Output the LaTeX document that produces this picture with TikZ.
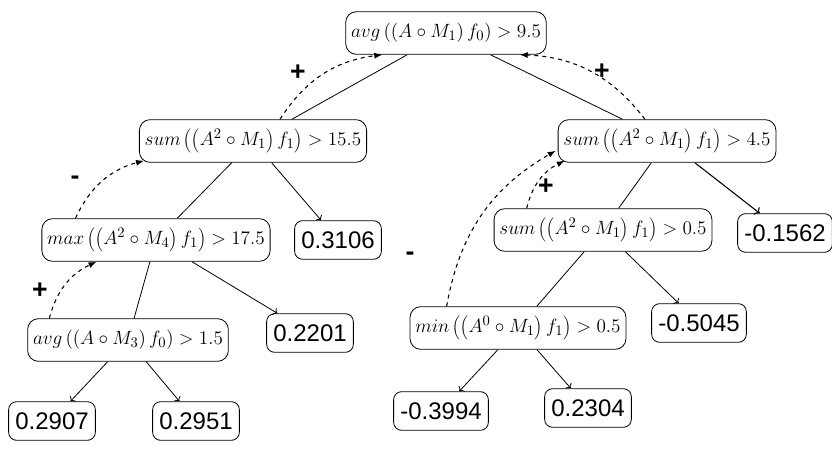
\documentclass[tikz,border=0pt]{standalone}
\usepackage{fontspec}
\newfontfamily\leaffont{Liberation Sans}
\usetikzlibrary{arrows.meta, calc}

\begin{document}
\begin{tikzpicture}[x=0.75pt, y=-0.75pt, semithick,
    split/.style={draw, rounded corners=8pt, inner xsep=4pt, minimum height=32pt, font=\fontsize{15}{18}\selectfont},
    leaf/.style={draw, rounded corners=6pt, minimum height=29pt, inner xsep=5pt, font=\leaffont\fontsize{18}{20}\selectfont},
    sign/.style={font=\leaffont\bfseries\fontsize{20}{22}\selectfont},
    back/.style={-{Latex[length=6pt]}, dashed, thick}]
        \useasboundingbox (0,0) rectangle (832,453);
        % split nodes
        \node [split] (r) at (446,33) {$avg\left(\left(A\circ M_1\right)f_0\right)>9.5$};
        \node [split] (l1) at (253,141) {$sum\left(\left(A^2\circ M_1\right)f_1\right)>15.5$};
        \node [split] (r1) at (667,141) {$sum\left(\left(A^2\circ M_1\right)f_1\right)>4.5$};
        \node [split] (l2) at (156,240) {$max\left(\left(A^2\circ M_4\right)f_1\right)>17.5$};
        \node [split] (r2) at (603,230) {$sum\left(\left(A^2\circ M_1\right)f_1\right)>0.5$};
        \node [split] (l3) at (128,340) {$avg\left(\left(A\circ M_3\right)f_0\right)>1.5$};
        \node [split] (r3) at (518,328) {$min\left(\left(A^0\circ M_1\right)f_1\right)>0.5$};
        % leaves
        \node [leaf] (a) at (338,240) {0.3106};
        \node [leaf] (b) at (785,233) {-0.1562};
        \node [leaf] (c) at (310,333) {0.2201};
        \node [leaf] (d) at (699,323) {-0.5045};
        \node [leaf] (e) at (52,421) {0.2907};
        \node [leaf] (f) at (196,421) {0.2951};
        \node [leaf] (g) at (441,411) {-0.3994};
        \node [leaf] (h) at (588,408) {0.2304};
        % edges
        \draw (r) -- (l1);
        \draw (r) -- (r1);
        \draw (l1) -- (l2);
        \draw[->] (l1) -- (a);
        \draw (r1) -- (r2);
        \draw[->, thick] (r1) -- (b);
        \draw (l2) -- (l3);
        \draw[->] (l2) -- (c);
        \draw (r2) -- (r3);
        \draw[->] (r2) -- (d);
        \draw[->] (l3) -- (e);
        \draw[->] (l3) -- (f);
        \draw[->] (r3) -- (g);
        \draw[->] (r3) -- (h);
        % feedback
        \draw[back] ($(l1.north)+(27,0)$) to[bend left=25] ($(r.south west)+(37,0)$);
        \node [sign] at (298,73) {+};
        \draw[back] ($(r1.north)+(-22,0)$) to[bend right=25] ($(r.south east)+(-27,0)$);
        \node [sign] at (602,72) {+};
        \draw[back] ($(l2.north west)+(34,0)$) to[bend left=25] ($(l1.south west)+(5,-2)$);
        \node [sign] at (75,180) {-};
        \draw[back] ($(l3.north west)+(22,0)$) to[bend left=25] ($(l2.south west)+(55,0)$);
        \node [sign] at (40,291) {+};
        \draw[back] ($(r2.north west)+(33,0)$) to[bend left=25] ($(r1.south west)+(7,-2)$);
        \node [sign] at (546,187) {+};
        \draw[back] ($(r3.north west)+(37,0)$) to[bend left=25] ($(r1.south west)+(-2,-12)$);
        \node [sign] at (410,256) {-};
\end{tikzpicture}
\end{document}
